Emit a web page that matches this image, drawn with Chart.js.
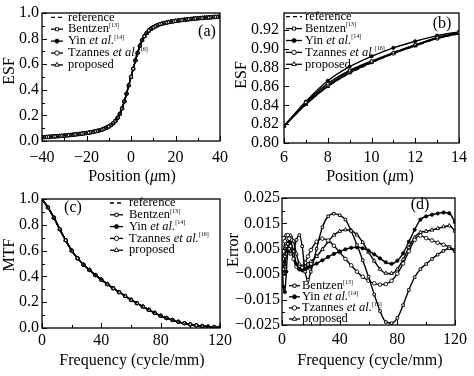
<!DOCTYPE html>
<html><head><meta charset="utf-8">
<script src="https://cdn.jsdelivr.net/npm/chart.js@4"></script>
<style>
html,body{margin:0;padding:0;background:#fff;width:474px;height:376px;overflow:hidden}
canvas{position:absolute}
</style></head><body>
<canvas id="ca" width="237" height="188" style="left:0;top:0"></canvas>
<canvas id="cc" width="237" height="188" style="left:0;top:188px"></canvas>
<canvas id="cb" width="252" height="188" style="left:222px;top:0"></canvas>
<canvas id="cd" width="252" height="188" style="left:222px;top:188px"></canvas>
<script>
// ---------------- data ----------------
const esfPos = [-40,-39,-38,-37,-36,-35,-34,-33,-32,-31,-30,-29,-28,-27,-26,-25,-24,-23,-22,-21,
  -20,-19,-18,-17,-16,-15,-14,-13,-12,-11,-10,-9,-8,-7,-6,-5,-4,-3,-2,-1,
  0,1,2,3,4,5,6,7,8,9,10,11,12,13,14,15,16,17,18,19,20,21,22,23,24,25,26,27,28,29,
  30,31,32,33,34,35,36,37,38,39,40];
const esfRef = [0.029,0.030,0.031,0.032,0.034,0.035,0.036,0.037,0.039,0.040,
  0.042,0.043,0.045,0.047,0.049,0.051,0.053,0.055,0.057,0.060,
  0.062,0.065,0.068,0.071,0.075,0.079,0.084,0.089,0.096,0.104,
  0.113,0.124,0.139,0.158,0.182,0.212,0.255,0.310,0.370,0.435,
  0.500,0.565,0.630,0.690,0.745,0.788,0.818,0.841,0.860,0.874,
  0.885,0.895,0.903,0.911,0.916,0.921,0.925,0.929,0.932,0.935,
  0.938,0.940,0.943,0.945,0.947,0.949,0.951,0.953,0.955,0.957,
  0.958,0.960,0.961,0.963,0.964,0.965,0.966,0.968,0.969,0.970,0.971];

const zoomPos      = [6,7,8,9,10,11,12,13,14];
const zoomRef      = [0.818,0.841,0.860,0.874,0.885,0.895,0.903,0.911,0.916];
const zoomBentzen  = [0.818,0.843,0.863,0.877,0.887,0.896,0.904,0.912,0.917];
const zoomYin      = [0.818,0.844,0.866,0.881,0.892,0.901,0.908,0.914,0.918];
const zoomTzannes  = [0.818,0.842,0.861,0.876,0.886,0.895,0.904,0.911,0.917];
const zoomProposed = [0.818,0.841,0.860,0.8745,0.8855,0.8952,0.9032,0.911,0.9162];

const freqMTF = [0,4,8,12,16,20,24,28,32,36,40,44,48,52,56,60,64,68,72,76,80,84,88,92,96,100,104,108,112,116,120];
const mtfRef  = [1.000,0.935,0.855,0.765,0.680,0.600,0.540,0.490,0.450,0.410,0.375,0.340,0.308,0.278,0.248,
  0.219,0.192,0.166,0.141,0.117,0.095,0.077,0.062,0.048,0.037,0.028,0.021,0.015,0.010,0.007,0.005];

const freqErr = [0,1,2,3,4,5,6,8,10,12,14,16,18,20,24,28,32,36,40,44,48,52,56,60,64,68,72,76,80,84,88,92,96,100,104,108,112,116,120];
const errBentzen  = [0.000,-0.003,0.002,0.006,0.007,0.005,0.003,0.004,0.0085,0.0104,0.006,-0.004,-0.0072,-0.004,
  0.005,0.0135,0.0178,0.0188,0.0182,0.0165,0.012,0.0065,0.0005,-0.006,-0.013,-0.0195,-0.0238,-0.0243,-0.0222,
  -0.0172,-0.0112,-0.0062,-0.003,-0.001,0.001,0.0027,0.0042,0.0052,0.004];
const errYin      = [0.000,-0.010,-0.012,-0.004,0.004,0.0075,0.0075,0.004,-0.001,-0.003,-0.0035,-0.003,-0.0025,-0.002,
  -0.0008,0.0005,0.0018,0.003,0.004,0.0048,0.0054,0.0056,0.0052,0.0043,0.0028,0.0012,-0.0003,-0.0009,0.0003,
  0.0032,0.0078,0.0125,0.0165,0.0178,0.0184,0.0189,0.0193,0.019,0.0155];
const errTzannes  = [0.000,0.004,0.008,0.0103,0.0104,0.009,0.006,0.001,-0.002,-0.003,-0.0025,-0.0005,0.002,0.0045,
  0.0078,0.009,0.0083,0.0062,0.0037,0.001,-0.0015,-0.004,-0.006,-0.0075,-0.0086,-0.0091,-0.0089,-0.0076,-0.0048,
  -0.0008,0.004,0.0085,0.0102,0.0092,0.0083,0.0074,0.0066,0.0057,0.0045];
const errProposed = [0.000,-0.005,-0.002,0.003,0.007,0.0095,0.0102,0.008,0.003,-0.001,-0.002,-0.0018,-0.001,0.000,
  0.002,0.0048,0.0078,0.0104,0.0119,0.0125,0.0122,0.0105,0.0075,0.0037,0.0002,-0.003,-0.0046,-0.0047,-0.003,
  0.0008,0.0055,0.0095,0.0115,0.0119,0.0124,0.013,0.0137,0.0141,0.012];

const ticksEsfX  = [-40,-20,0,20,40];
const ticksEsfY  = [0,0.2,0.4,0.6,0.8,1.0];
const ticksZoomX = [6,8,10,12,14];
const ticksZoomY = [0.80,0.82,0.84,0.86,0.88,0.90,0.92];
const ticksFreqX = [0,40,80,120];
const ticksMtfY  = [0,0.2,0.4,0.6,0.8,1.0];
const ticksErrY  = [-0.025,-0.015,-0.005,0.005,0.015,0.025];

const names = {
  reference: [["reference",""]],
  bentzen:   [["Bentzen",""],["[13]","s"]],
  yin:       [["Yin ",""],["et al.","i"],["[14]","s"]],
  tzannes:   [["Tzannes ",""],["et al.","i"],["[16]","s"]],
  proposed:  [["proposed",""]]
};

// --------------- helpers ----------------
const FAM = '"Liberation Serif", "Times New Roman", serif';
function fontOf(style, size){
  if (style === 's') return `${Math.round(size*0.5)}px ${FAM}`;
  return `${style==='i'?'italic ':''}${size}px ${FAM}`;
}
function richWidth(ctx, parts, size){
  let w = 0;
  for (const [t,s] of parts){ ctx.font = fontOf(s,size); w += ctx.measureText(t).width; }
  return w;
}
function drawRich(ctx, parts, x, y, size, align){
  let cx = align === 'center' ? x - richWidth(ctx, parts, size)/2 : x;
  ctx.textAlign = 'left'; ctx.textBaseline = 'middle';
  for (const [t,s] of parts){
    ctx.font = fontOf(s,size);
    ctx.fillText(t, cx, s==='s' ? y - size*0.3 : y);
    cx += ctx.measureText(t).width;
  }
}
const pts = (xs, ys) => xs.map((x,i) => ({x, y: ys[i]}));
const styles = {
  reference: {borderDash:[4,3], pointRadius:0},
  bentzen:   {pointStyle:'rect', pointRadius:1.8, pointBackgroundColor:'#fff'},
  yin:       {pointStyle:'circle', pointRadius:1.6, pointBackgroundColor:'#000'},
  tzannes:   {pointStyle:'circle', pointRadius:1.8, pointBackgroundColor:'#fff'},
  proposed:  {pointStyle:'triangle', pointRadius:2.2, pointBackgroundColor:'#fff'}
};
function ds(key, data){
  return Object.assign({label: key, data, borderColor:'#000', borderWidth:1.4, pointBorderColor:'#000',
    pointBorderWidth:0.9, fill:false, cubicInterpolationMode:'monotone'}, styles[key]);
}
const fmt = d => v => Number(v).toFixed(d).replace('-', '\u2212');
function axis(min, max, arr, f, pad, fixed, isX){
  return {
    type:'linear', min, max,
    afterBuildTicks: s => { s.ticks = arr.map(v => ({value:v})); },
    afterFit: s => { if (isX) s.height = fixed; else s.width = fixed; },
    grid:{display:false, drawTicks:false}, border:{display:false},
    ticks:{callback: v => f(v), color:'#000', padding:pad, maxRotation:0, autoSkip:false,
      font:{family:'Liberation Serif', size:16, lineHeight:1}}
  };
}

const annot = {
  id:'annot',
  afterDraw(chart, args, o){
    const ctx = chart.ctx, a = chart.chartArea, xs = chart.scales.x, ys = chart.scales.y;
    ctx.save();
    ctx.strokeStyle = '#000'; ctx.fillStyle = '#000'; ctx.setLineDash([]);
    ctx.lineWidth = 1.3;
    ctx.strokeRect(a.left, a.top, a.right - a.left, a.bottom - a.top);
    ctx.lineWidth = 1;
    const f = o.frame;
    let n = Math.round((xs.max - xs.min)/f.xStep);
    for (let i = 0; i <= n; i++){
      const v = xs.min + i*f.xStep, p = Math.round(xs.getPixelForValue(v)) + 0.5;
      const len = f.xMajor.some(m => Math.abs(m - v) < 1e-9) ? 5 : 3;
      ctx.beginPath(); ctx.moveTo(p, a.bottom); ctx.lineTo(p, a.bottom - len); ctx.stroke();
    }
    n = Math.round((f.yTop - f.yBase)/f.yStep);
    for (let i = 0; i <= n; i++){
      const v = f.yBase + i*f.yStep, p = Math.round(ys.getPixelForValue(v)) + 0.5;
      const len = f.yMajor.some(m => Math.abs(m - v) < 1e-9) ? 5 : 3;
      ctx.beginPath(); ctx.moveTo(a.left, p); ctx.lineTo(a.left + len, p); ctx.stroke();
    }
    for (const t of o.texts){
      ctx.save(); ctx.translate(t.x, t.y); if (t.rot) ctx.rotate(t.rot);
      drawRich(ctx, t.parts, 0, 0, t.size, 'center'); ctx.restore();
    }
    const L = o.legend;
    L.items.forEach((it, k) => {
      const d = chart.data.datasets[it.ds], y = L.y0 + k*L.dy;
      ctx.save();
      ctx.strokeStyle = '#000'; ctx.lineWidth = 1.3;
      ctx.setLineDash(d.borderDash || []);
      ctx.beginPath(); ctx.moveTo(L.x0, y); ctx.lineTo(L.x1, y); ctx.stroke();
      ctx.setLineDash([]);
      if (d.pointRadius > 0){
        ctx.fillStyle = d.pointBackgroundColor; ctx.strokeStyle = '#000'; ctx.lineWidth = 0.9;
        Chart.helpers.drawPoint(ctx, {pointStyle:d.pointStyle, radius:d.pointRadius + 0.4, borderWidth:0.9, rotation:0}, (L.x0+L.x1)/2, y);
      }
      ctx.fillStyle = '#000';
      drawRich(ctx, it.parts, L.tx, y, L.size, 'left');
      ctx.restore();
    });
    ctx.restore();
  }
};

function make(id, datasets, scales, padding, annotOpts){
  return new Chart(document.getElementById(id), {
    type:'line',
    data:{datasets},
    options:{animation:false, responsive:false, devicePixelRatio:1, events:[],
      layout:{padding},
      plugins:{legend:{display:false}, tooltip:{enabled:false}, annot:annotOpts},
      scales},
    plugins:[annot]
  });
}
const splice = zoomArr => esfPos.map((x,i) => {
  const j = zoomPos.indexOf(x); return {x, y: j >= 0 ? zoomArr[j] : esfRef[i]};
});
const R = -Math.PI/2;
const posTitle = [["Position (",""],["\u03bc","i"],["m)",""]];
const freqTitle = [["Frequency (cycle/mm)",""]];

// (a)
make('ca', [
  ds('reference', pts(esfPos, esfRef)),
  ds('bentzen', splice(zoomBentzen)),
  ds('yin', splice(zoomYin)),
  ds('tzannes', splice(zoomTzannes)),
  ds('proposed', splice(zoomProposed))
], {
  x: axis(-40, 40, ticksEsfX, fmt(0), 9, 47, true),
  y: axis(0, 1, ticksEsfY, fmt(1), 3, 42, false)
}, {top:13, right:15, left:0, bottom:0}, {
  frame:{xStep:10, xMajor:ticksEsfX, yBase:0, yTop:1, yStep:0.1, yMajor:ticksEsfY},
  texts:[{parts:[["ESF",""]], x:10, y:71, rot:R, size:16},
         {parts:posTitle, x:132, y:177, size:16},
         {parts:[["(a)",""]], x:207, y:32, size:16}],
  legend:{x0:51, x1:63, tx:68, y0:17.3, dy:11.9, size:12.5,
    items:[{ds:0,parts:names.reference},{ds:1,parts:names.bentzen},{ds:2,parts:names.yin},{ds:3,parts:names.tzannes},{ds:4,parts:names.proposed}]}
});

// (b)
make('cb', [
  ds('reference', pts(zoomPos, zoomRef)),
  ds('bentzen', pts(zoomPos, zoomBentzen)),
  ds('yin', pts(zoomPos, zoomYin)),
  ds('tzannes', pts(zoomPos, zoomTzannes)),
  ds('proposed', pts(zoomPos, zoomProposed))
], {
  x: axis(6, 14, ticksZoomX, fmt(0), 6.5, 45, true),
  y: axis(0.8, 0.938, ticksZoomY, fmt(2), 5, 62, false)
}, {top:13, right:15, left:0, bottom:0}, {
  frame:{xStep:1, xMajor:ticksZoomX, yBase:0.8, yTop:0.92, yStep:0.02, yMajor:ticksZoomY},
  texts:[{parts:[["ESF",""]], x:20, y:75, rot:R, size:16},
         {parts:posTitle, x:148, y:177, size:16},
         {parts:[["(b)",""]], x:220, y:24, size:16}],
  legend:{x0:64, x1:80, tx:83, y0:16.7, dy:11.9, size:12.5,
    items:[{ds:0,parts:names.reference},{ds:1,parts:names.bentzen},{ds:2,parts:names.yin},{ds:3,parts:names.tzannes},{ds:4,parts:names.proposed}]}
});

// (c)
make('cc', [
  ds('reference', pts(freqMTF, mtfRef)),
  ds('bentzen', pts(freqMTF, mtfRef)),
  ds('yin', pts(freqMTF, mtfRef)),
  ds('tzannes', pts(freqMTF, mtfRef)),
  ds('proposed', pts(freqMTF, mtfRef))
], {
  x: axis(0, 120, ticksFreqX, fmt(0), 5, 48, true),
  y: axis(0, 1, ticksMtfY, fmt(1), 3, 42, false)
}, {top:9, right:15, left:0, bottom:0}, {
  frame:{xStep:20, xMajor:ticksFreqX, yBase:0, yTop:1, yStep:0.1, yMajor:ticksMtfY},
  texts:[{parts:[["MTF",""]], x:10, y:67, rot:R, size:16},
         {parts:freqTitle, x:132, y:173, size:16},
         {parts:[["(c)",""]], x:73, y:20, size:16}],
  legend:{x0:110, x1:123, tx:129, y0:15, dy:11.8, size:12.5,
    items:[{ds:0,parts:names.reference},{ds:1,parts:names.bentzen},{ds:2,parts:names.yin},{ds:3,parts:names.tzannes},{ds:4,parts:names.proposed}]}
});

// (d)
make('cd', [
  ds('bentzen', pts(freqErr, errBentzen)),
  ds('yin', pts(freqErr, errYin)),
  ds('tzannes', pts(freqErr, errTzannes)),
  ds('proposed', pts(freqErr, errProposed))
], {
  x: axis(0, 120, ticksFreqX, fmt(0), 7, 51, true),
  y: axis(-0.025, 0.025, ticksErrY, fmt(3), 2, 60, false)
}, {top:9, right:14, left:0, bottom:0}, {
  frame:{xStep:20, xMajor:ticksFreqX, yBase:-0.025, yTop:0.025, yStep:0.005, yMajor:ticksErrY},
  texts:[{parts:[["Error",""]], x:12, y:62, rot:R, size:16},
         {parts:freqTitle, x:148, y:173, size:16},
         {parts:[["(d)",""]], x:198, y:17, size:16}],
  legend:{x0:67, x1:78, tx:80, y0:97.7, dy:11.1, size:12.5,
    items:[{ds:0,parts:names.bentzen},{ds:1,parts:names.yin},{ds:2,parts:names.tzannes},{ds:3,parts:names.proposed}]}
});
</script>
</body></html>
